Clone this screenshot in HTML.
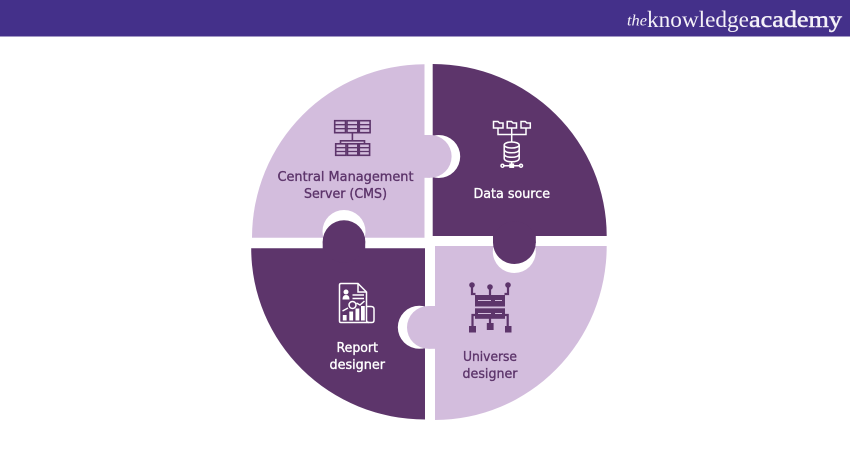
<!DOCTYPE html>
<html>
<head>
<meta charset="utf-8">
<style>
html,body{margin:0;padding:0;background:#fff;width:850px;height:450px;overflow:hidden}
svg{display:block}
.t{font-family:"DejaVu Sans","Liberation Sans",sans-serif;font-size:13px;stroke-width:.35}
.d{fill:#5d356b;stroke:#5d356b}
.w{fill:#fff;stroke:#fff}
.s{font-family:"Liberation Serif",serif;fill:#f4f1f8}
</style>
</head>
<body>
<svg width="850" height="450" viewBox="0 0 850 450" xmlns="http://www.w3.org/2000/svg">
<rect width="850" height="450" fill="#fff"/>
<rect width="850" height="36.500" fill="#44308a"/>
<text class="s" x="627" y="25.500" font-size="16" font-style="italic" textLength="20" lengthAdjust="spacingAndGlyphs">the</text>
<text class="s" x="647" y="27" font-size="23" textLength="102" lengthAdjust="spacingAndGlyphs">knowledge</text>
<text class="s" x="749" y="27" font-size="23" stroke="#f4f1f8" stroke-width=".5" textLength="93" lengthAdjust="spacingAndGlyphs">academy</text>

<!-- Pieces -->
<path d="M424.500 64.300 A172.500 173.400 0 0 0 252 237.700 H424.500 Z" fill="#d3bddd"/>
<path d="M432.700 64 A174 172 0 0 1 606.700 236 H432.700 Z" fill="#5d356b"/>
<path d="M435 246 H606.700 A171.700 174 0 0 1 435 420 Z" fill="#d3bddd"/>
<path d="M425 248.300 V419.500 A173.800 171.200 0 0 1 251.200 248.300 Z" fill="#5d356b"/>

<!-- Notches -->
<circle cx="438.700" cy="156.500" r="21.500" fill="#fff"/>
<circle cx="514.300" cy="251.500" r="21.500" fill="#fff"/>
<circle cx="419.300" cy="327.300" r="21.500" fill="#fff"/>
<circle cx="344" cy="231.500" r="21.500" fill="#fff"/>

<!-- Tabs -->
<rect x="420" y="135" width="10" height="42.800" fill="#d3bddd"/>
<circle cx="430.200" cy="156.400" r="21.400" fill="#d3bddd"/>
<rect x="493" y="232" width="42.800" height="11" fill="#5d356b"/>
<circle cx="514.400" cy="242.600" r="21.400" fill="#5d356b"/>
<rect x="428.500" y="306" width="10" height="42.800" fill="#d3bddd"/>
<circle cx="428.400" cy="327.400" r="21.400" fill="#d3bddd"/>
<rect x="322.700" y="241.500" width="42.500" height="10" fill="#5d356b"/>
<circle cx="344" cy="241.500" r="21.300" fill="#5d356b"/>

<!-- CMS icon -->
<g fill="none" stroke="#5d356b" stroke-width="1.600">
<rect x="334.700" y="120.700" width="10.800" height="12"/>
<rect x="347" y="120.700" width="10.800" height="12"/>
<rect x="359.300" y="120.700" width="10.800" height="12"/>
<rect x="335.700" y="143.800" width="10.300" height="11.500"/>
<rect x="347.500" y="143.800" width="10.300" height="11.500"/>
<rect x="359.300" y="143.800" width="10.300" height="11.500"/>
<path d="M352.400 133V141M340.500 143.800V140.800H364.500V143.800"/>
<path stroke-width="1.300" d="M335 124.700H345M347.500 124.700H357.500M359.500 124.700H370M335 128.700H345M347.500 128.700H357.500M359.500 128.700H370M336 147.700H346M348 147.700H358M359.500 147.700H369.500M336 151.500H346M348 151.500H358M359.500 151.500H369.500"/>
</g>

<!-- Data source icon -->
<g fill="none" stroke="#fff" stroke-width="1.500">
<path d="M493.500 121.500H498L499.500 123H503V128H493.500Z"/>
<path d="M507.200 121.500H511.500L513 123H516.500V128H507.200Z"/>
<path d="M521 121.500H525.300L526.800 123H530.300V128H521Z"/>
<path d="M498 128V134.500H526V128M511.700 128V142"/>
<ellipse cx="511.700" cy="145" rx="7.500" ry="3"/>
<path d="M504.200 145V158.500C504.200 160.500 507.500 161.800 511.700 161.800S519.200 160.500 519.200 158.500V145"/>
<path d="M504.200 149.500C504.200 151.500 507.500 152.800 511.700 152.800S519.200 151.500 519.200 149.500M504.200 154C504.200 156 507.500 157.300 511.700 157.300S519.200 156 519.200 154"/>
<path d="M511.700 162V165.700M503 165.700H520.500"/>
<circle cx="502.500" cy="165.700" r="1.500"/>
<circle cx="521" cy="165.700" r="1.500"/>
<rect x="510" y="164.200" width="3.400" height="3"/>
</g>

<!-- Report icon -->
<g fill="none" stroke="#fff" stroke-width="1.500">
<path d="M358 283.500H341Q339.500 283.500 339.500 285V321Q339.500 322.500 341 322.500H372Q374 322.500 374 320V309Q374 306.500 371 306.500H366.500V292Z"/>
<path d="M358 283.500V292H366.500M366.500 306.500V320Q366.500 322.500 369 322.500"/>
<circle cx="352.500" cy="305" r="3.500"/>
<path d="M342.500 311L348 308M356.500 303L360 305L364.500 301"/>
<path d="M352.500 295H364M352.500 298.500H364"/>
</g>
<g fill="#fff">
<circle cx="346" cy="292" r="2.500"/>
<path d="M342.500 299.500Q342.500 295 346 295T349.500 299.500Z"/>
<rect x="342.800" y="315" width="3.800" height="5.500"/>
<rect x="349.300" y="311.500" width="3.800" height="9"/>
<rect x="355.500" y="308.500" width="3.800" height="12"/>
<rect x="361" y="306" width="3.800" height="14.500"/>
</g>

<!-- Universe icon -->
<g fill="none" stroke="#5d356b" stroke-width="2.200">
<path d="M472 285V294H475.500M490 287V295M508 285V294H504.500"/>
<path d="M475.500 315H472.500V327M490 318V324M504.500 315H507.700V327"/>
</g>
<g fill="#5d356b">
<circle cx="472" cy="285" r="2.800"/>
<circle cx="490" cy="287" r="2.800"/>
<circle cx="508" cy="285" r="2.800"/>
<rect x="475" y="295" width="30" height="11.500"/>
<rect x="475" y="308.300" width="30" height="10.500"/>
<rect x="469" y="326" width="7" height="6.500"/>
<rect x="486.800" y="323" width="6.800" height="7"/>
<rect x="505" y="326" width="6.500" height="6.500"/>
</g>
<g fill="none" stroke="#d3bddd" stroke-width="1">
<path d="M478 300.500H491M478 313.500H491M495 300.500H502M495 313.500H502"/>
</g>

<!-- Labels -->
<text class="t d" x="277.500" y="181" textLength="136" lengthAdjust="spacingAndGlyphs">Central Management</text>
<text class="t d" x="304" y="198" textLength="83" lengthAdjust="spacingAndGlyphs">Server (CMS)</text>
<text class="t w" x="473.500" y="198" textLength="76.500" lengthAdjust="spacingAndGlyphs">Data source</text>
<text class="t w" x="336.500" y="352" textLength="41.500" lengthAdjust="spacingAndGlyphs">Report</text>
<text class="t w" x="329.500" y="369" textLength="55.500" lengthAdjust="spacingAndGlyphs">designer</text>
<text class="t d" x="463" y="361" textLength="54" lengthAdjust="spacingAndGlyphs">Universe</text>
<text class="t d" x="462.500" y="378" textLength="55" lengthAdjust="spacingAndGlyphs">designer</text>
</svg>
</body>
</html>
